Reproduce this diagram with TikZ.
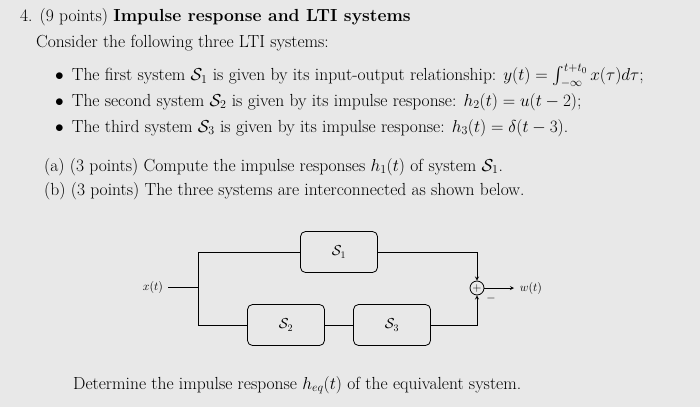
\documentclass[tikz,border=0pt]{standalone}
\usepackage{amsmath}
\begin{document}
\begin{tikzpicture}[x=1pt,y=-1pt,
  txt/.style={anchor=west,inner sep=0pt,font=\fontsize{17.5}{20}\selectfont},
  sys/.style={draw,rounded corners=5pt,minimum width=77pt,minimum height=41pt,line width=0.8pt,font=\fontsize{14}{16}\selectfont},
  wire/.style={line width=0.8pt},
  lbl/.style={inner sep=1pt,font=\fontsize{12.5}{14}\selectfont}]
\fill[gray!18] (0,0) rectangle (700,407);
\useasboundingbox (0,0) rectangle (700,407);
\node[txt] (t1) at (20,17) {4. (9 points) \textbf{Impulse response and LTI systems}};
\node[txt] (t2) at (36,43) {Consider the following three LTI systems:};
\node[txt] (b1) at (55,76) {$\bullet$\hspace{8pt}The first system $\mathcal{S}_1$ is given by its input-output relationship: $y(t)=\int_{-\infty}^{t+t_0}x(\tau)d\tau$;};
\node[txt] (b2) at (55,102) {$\bullet$\hspace{8pt}The second system $\mathcal{S}_2$ is given by its impulse response: $h_2(t)=u(t-2)$;};
\node[txt] (b3) at (55,128) {$\bullet$\hspace{8pt}The third system $\mathcal{S}_3$ is given by its impulse response: $h_3(t)=\delta(t-3)$.};
\node[txt] (pa) at (44,167) {(a) (3 points) Compute the impulse responses $h_1(t)$ of system $\mathcal{S}_1$.};
\node[txt] (pb) at (44,191) {(b) (3 points) The three systems are interconnected as shown below.};
\node[txt] (det) at (73,385) {Determine the impulse response $h_{eq}(t)$ of the equivalent system.};

\node[lbl] (x) at (153,287) {$x(t)$};
\coordinate (in) at (168,287);
\coordinate (br) at (198,287);
\node[sys] (s1) at (339,252) {$\mathcal{S}_1$};
\node[sys] (s2) at (286,325) {$\mathcal{S}_2$};
\node[sys] (s3) at (392,325) {$\mathcal{S}_3$};
\node[draw,circle,line width=0.8pt,inner sep=0pt,minimum size=14pt,font=\fontsize{13}{13}\selectfont] (sum) at (477,288) {$+$};
\node[lbl] (w) at (531,288) {$w(t)$};
\node[lbl] (m) at (491,298) {$-$};
\coordinate (out) at (514,288);

\draw[wire] (in) -- (br);
\draw[wire] (br |- s1.west) |- (s2.west);
\draw[wire] (br |- s1.west) -- (s1.west);
\draw[wire] (s2) -- (s3);
\draw[wire,->,>=stealth] (s1.east) -| (sum.north);
\draw[wire,->,>=stealth] (s3.east) -| (sum.south);
\draw[wire,->,>=stealth] (sum.east) -- (out);
\end{tikzpicture}
\end{document}
